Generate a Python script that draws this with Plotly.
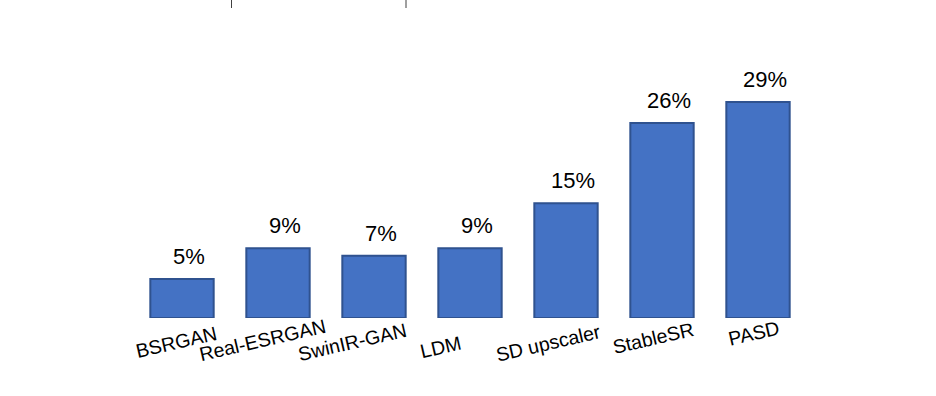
import plotly.graph_objects as go

categories = ["BSRGAN", "Real-ESRGAN", "SwinIR-GAN", "LDM", "SD upscaler", "StableSR", "PASD"]
values = [5.2, 9.3, 8.3, 9.3, 15.3, 26.0, 28.8]
value_labels = ["5%", "9%", "7%", "9%", "15%", "26%", "29%"]

# per-label offsets of the category names (pixels)
name_dx = [-6, -16, -22, -30, -18, -9, -4]
name_dy = [-24, -22, -24, -29, -25, -20, -15]

FONT = "Liberation Sans, Arial, sans-serif"

fig = go.Figure()
fig.add_trace(go.Bar(
    x=list(range(len(categories))),
    y=values,
    width=0.66,
    marker=dict(color="#4472C4", line=dict(color="#2F528F", width=2)),
    hoverinfo="skip",
))

L, R, T, B = 134, 130, 42, 78
W, H = 936, 396
pw, ph = W - L - R, H - T - B

annotations = []
for i, (v, lab) in enumerate(zip(values, value_labels)):
    annotations.append(dict(
        x=i, y=v, xref="x", yref="y", text=lab, showarrow=False,
        xanchor="center", yanchor="bottom", xshift=7, yshift=8,
        font=dict(family=FONT, size=22, color="#000000"),
    ))
for i, name in enumerate(categories):
    annotations.append(dict(
        x=i, y=0, xref="x", yref="y", text=name, showarrow=False,
        xanchor="center", yanchor="middle", textangle=-13,
        xshift=name_dx[i], yshift=name_dy[i],
        font=dict(family=FONT, size=19.5, color="#000000"),
    ))

shapes = []
for px in (231.5, 406):
    xp = (px - L) / pw
    shapes.append(dict(type="line", xref="paper", yref="paper",
                       x0=xp, x1=xp, y0=1 + T / ph, y1=1 + (T - 8) / ph,
                       line=dict(color="#404040", width=1)))

fig.update_layout(
    width=W, height=H,
    margin=dict(l=L, r=R, t=T, b=B),
    plot_bgcolor="white", paper_bgcolor="white",
    showlegend=False,
    xaxis=dict(range=[-0.5, 6.5], showticklabels=False, showgrid=False,
               zeroline=False, showline=False, ticks=""),
    yaxis=dict(range=[0, ph / 7.5], showticklabels=False, showgrid=False,
               zeroline=False, showline=False, ticks=""),
    annotations=annotations,
    shapes=shapes,
)

fig.write_html("out.html", config={"displayModeBar": False},
               post_script="document.body.style.margin='0';document.body.style.overflow='hidden';")
